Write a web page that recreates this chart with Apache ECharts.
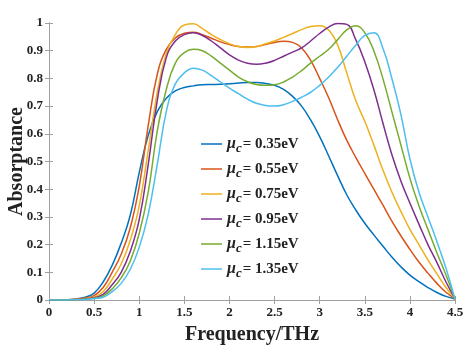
<!DOCTYPE html>
<html>
<head>
<meta charset="utf-8">
<script src="https://cdn.jsdelivr.net/npm/echarts@6/dist/echarts.min.js"></script>
<style>html,body{margin:0;padding:0;background:#fff}#c{width:474px;height:348px}</style>
</head>
<body>
<div id="c"></div>
<script>
var freq = [0,0.1,0.2,0.3,0.4,0.5,0.6,0.7,0.8,0.9,1.0,1.1,1.2,1.3,1.4,1.5,1.6,1.7,1.8,1.9,2.0,2.1,2.2,2.3,2.4,2.5,2.6,2.7,2.8,2.9,3.0,3.1,3.2,3.3,3.4,3.5,3.6,3.7,3.8,3.9,4.0,4.1,4.2,4.3,4.4,4.5];
var mu035 = [0,0.0005,0.001,0.004,0.01,0.025,0.065,0.125,0.205,0.305,0.46,0.595,0.68,0.728,0.755,0.767,0.773,0.777,0.778,0.779,0.781,0.783,0.785,0.785,0.782,0.775,0.76,0.735,0.70,0.65,0.59,0.52,0.448,0.38,0.325,0.277,0.235,0.195,0.155,0.12,0.09,0.066,0.045,0.027,0.013,0.004];
var mu055 = [0,0,0.001,0.003,0.007,0.016,0.045,0.10,0.165,0.26,0.41,0.63,0.815,0.905,0.946,0.963,0.967,0.958,0.945,0.932,0.922,0.915,0.913,0.915,0.922,0.93,0.934,0.93,0.91,0.865,0.80,0.73,0.65,0.577,0.515,0.457,0.40,0.343,0.285,0.232,0.183,0.137,0.097,0.06,0.028,0.005];
var mu075 = [0,0,0.0005,0.002,0.005,0.011,0.03,0.075,0.13,0.215,0.34,0.54,0.75,0.89,0.958,0.993,0.997,0.98,0.958,0.94,0.925,0.915,0.912,0.915,0.925,0.935,0.948,0.962,0.976,0.987,0.99,0.975,0.92,0.82,0.72,0.645,0.56,0.47,0.39,0.32,0.255,0.20,0.145,0.094,0.045,0.005];
var mu095 = [0,0,0.0005,0.001,0.004,0.008,0.02,0.055,0.10,0.175,0.29,0.49,0.72,0.875,0.935,0.958,0.965,0.955,0.935,0.91,0.885,0.866,0.855,0.851,0.855,0.865,0.88,0.895,0.91,0.935,0.962,0.985,0.998,0.995,0.94,0.86,0.76,0.64,0.525,0.43,0.35,0.274,0.20,0.135,0.065,0.005];
var mu115 = [0,0,0,0.001,0.003,0.006,0.015,0.04,0.08,0.14,0.24,0.39,0.61,0.76,0.855,0.893,0.905,0.90,0.88,0.855,0.83,0.805,0.788,0.778,0.775,0.777,0.787,0.805,0.828,0.855,0.88,0.905,0.94,0.975,0.99,0.965,0.90,0.80,0.68,0.56,0.44,0.34,0.255,0.17,0.09,0.003];
var mu135 = [0,0,0,0.0005,0.002,0.005,0.01,0.03,0.06,0.11,0.19,0.31,0.49,0.68,0.78,0.82,0.837,0.83,0.81,0.787,0.765,0.745,0.725,0.71,0.702,0.70,0.705,0.717,0.732,0.75,0.775,0.805,0.84,0.88,0.92,0.955,0.965,0.91,0.80,0.67,0.51,0.39,0.30,0.21,0.115,0.003];
var seriesNames = ['0.35eV','0.55eV','0.75eV','0.95eV','1.15eV','1.35eV'];
var seriesValues = [mu035, mu055, mu075, mu095, mu115, mu135];
var colors = ['#0072BD','#D95319','#EDB120','#7E2F8E','#77AC30','#4DBEEE'];
var xTicks = [0,0.5,1,1.5,2,2.5,3,3.5,4,4.5];
var yTicks = [0,0.1,0.2,0.3,0.4,0.5,0.6,0.7,0.8,0.9,1];

var serif = '"Liberation Serif","Times New Roman",serif';
var axisGray = '#a0a0a0';
var series = seriesNames.map(function(n, i){
  return {
    name: n, type: 'line', smooth: 0.45, showSymbol: false, symbol: 'none',
    lineStyle: {width: 1.5, color: colors[i]}, itemStyle: {color: colors[i]},
    data: freq.map(function(f, k){ return [f, seriesValues[i][k]]; }),
    z: 2 + i
  };
});
function fmtTick(v){ return String(+v.toFixed(1)); }
var chart = echarts.init(document.getElementById('c'), null, {renderer:'canvas'});
chart.setOption({
  animation: false,
  backgroundColor: '#fff',
  color: colors,
  grid: {left: 49, right: 19, top: 23, bottom: 48, containLabel: false, outerBoundsMode: 'none'},
  xAxis: [{
    type: 'value', min: 0, max: 4.5, interval: 0.5,
    name: 'Frequency/THz', nameLocation: 'middle', nameGap: 25, nameMoveOverlap: false,
    nameTextStyle: {fontFamily: serif, fontWeight: 'bold', fontSize: 20, color: '#222'},
    axisLine: {show: true, lineStyle: {color: axisGray, width: 1}},
    axisTick: {show: true, inside: true, length: 4, lineStyle: {color: axisGray}},
    axisLabel: {fontFamily: serif, fontWeight: 'bold', fontSize: 13, color: '#222', margin: 6, formatter: fmtTick},
    splitLine: {show: false}
  },{
    type: 'value', min: 0, max: 4.5, interval: 0.5, position: 'top',
    axisLine: {show: true, lineStyle: {color: axisGray, width: 1}},
    axisTick: {show: true, inside: true, length: 4, lineStyle: {color: axisGray}},
    axisLabel: {show: false}, splitLine: {show: false}
  }],
  yAxis: [{
    type: 'value', min: 0, max: 1, interval: 0.1,
    name: 'Absorptance', nameLocation: 'middle', nameGap: 22, nameRotate: 90, nameMoveOverlap: false,
    nameTextStyle: {fontFamily: serif, fontWeight: 'bold', fontSize: 20, color: '#222'},
    axisLine: {show: true, lineStyle: {color: axisGray, width: 1}},
    axisTick: {show: true, inside: true, length: 4, lineStyle: {color: axisGray}},
    axisLabel: {fontFamily: serif, fontWeight: 'bold', fontSize: 13, color: '#222', margin: 6, formatter: fmtTick},
    splitLine: {show: false}
  },{
    type: 'value', min: 0, max: 1, interval: 0.1, position: 'right',
    axisLine: {show: true, lineStyle: {color: axisGray, width: 1}},
    axisTick: {show: true, inside: true, length: 4, lineStyle: {color: axisGray}},
    axisLabel: {show: false}, splitLine: {show: false}
  }],
  legend: {
    show: true, orient: 'vertical', left: 201, top: 136, padding: 0,
    icon: 'rect', itemWidth: 21, itemHeight: 1.5, itemGap: 6,
    data: seriesNames,
    formatter: function(n){ return '{mu|μ}{c|c}{t|= ' + n + '}'; },
    textStyle: {
      fontFamily: serif, fontSize: 15, fontWeight: 'bold', color: '#222',
      rich: {
        mu: {fontFamily: serif, fontStyle: 'italic', fontSize: 16, color: '#222', height: 21, verticalAlign: 'middle'},
        c: {fontFamily: serif, fontStyle: 'italic', fontWeight: 'bold', fontSize: 13, color: '#222', padding: [9,1,0,0], height: 21},
        t: {fontFamily: serif, fontWeight: 'bold', fontSize: 15, color: '#222', height: 21}
      }
    }
  },
  series: series
});
</script>
</body>
</html>
